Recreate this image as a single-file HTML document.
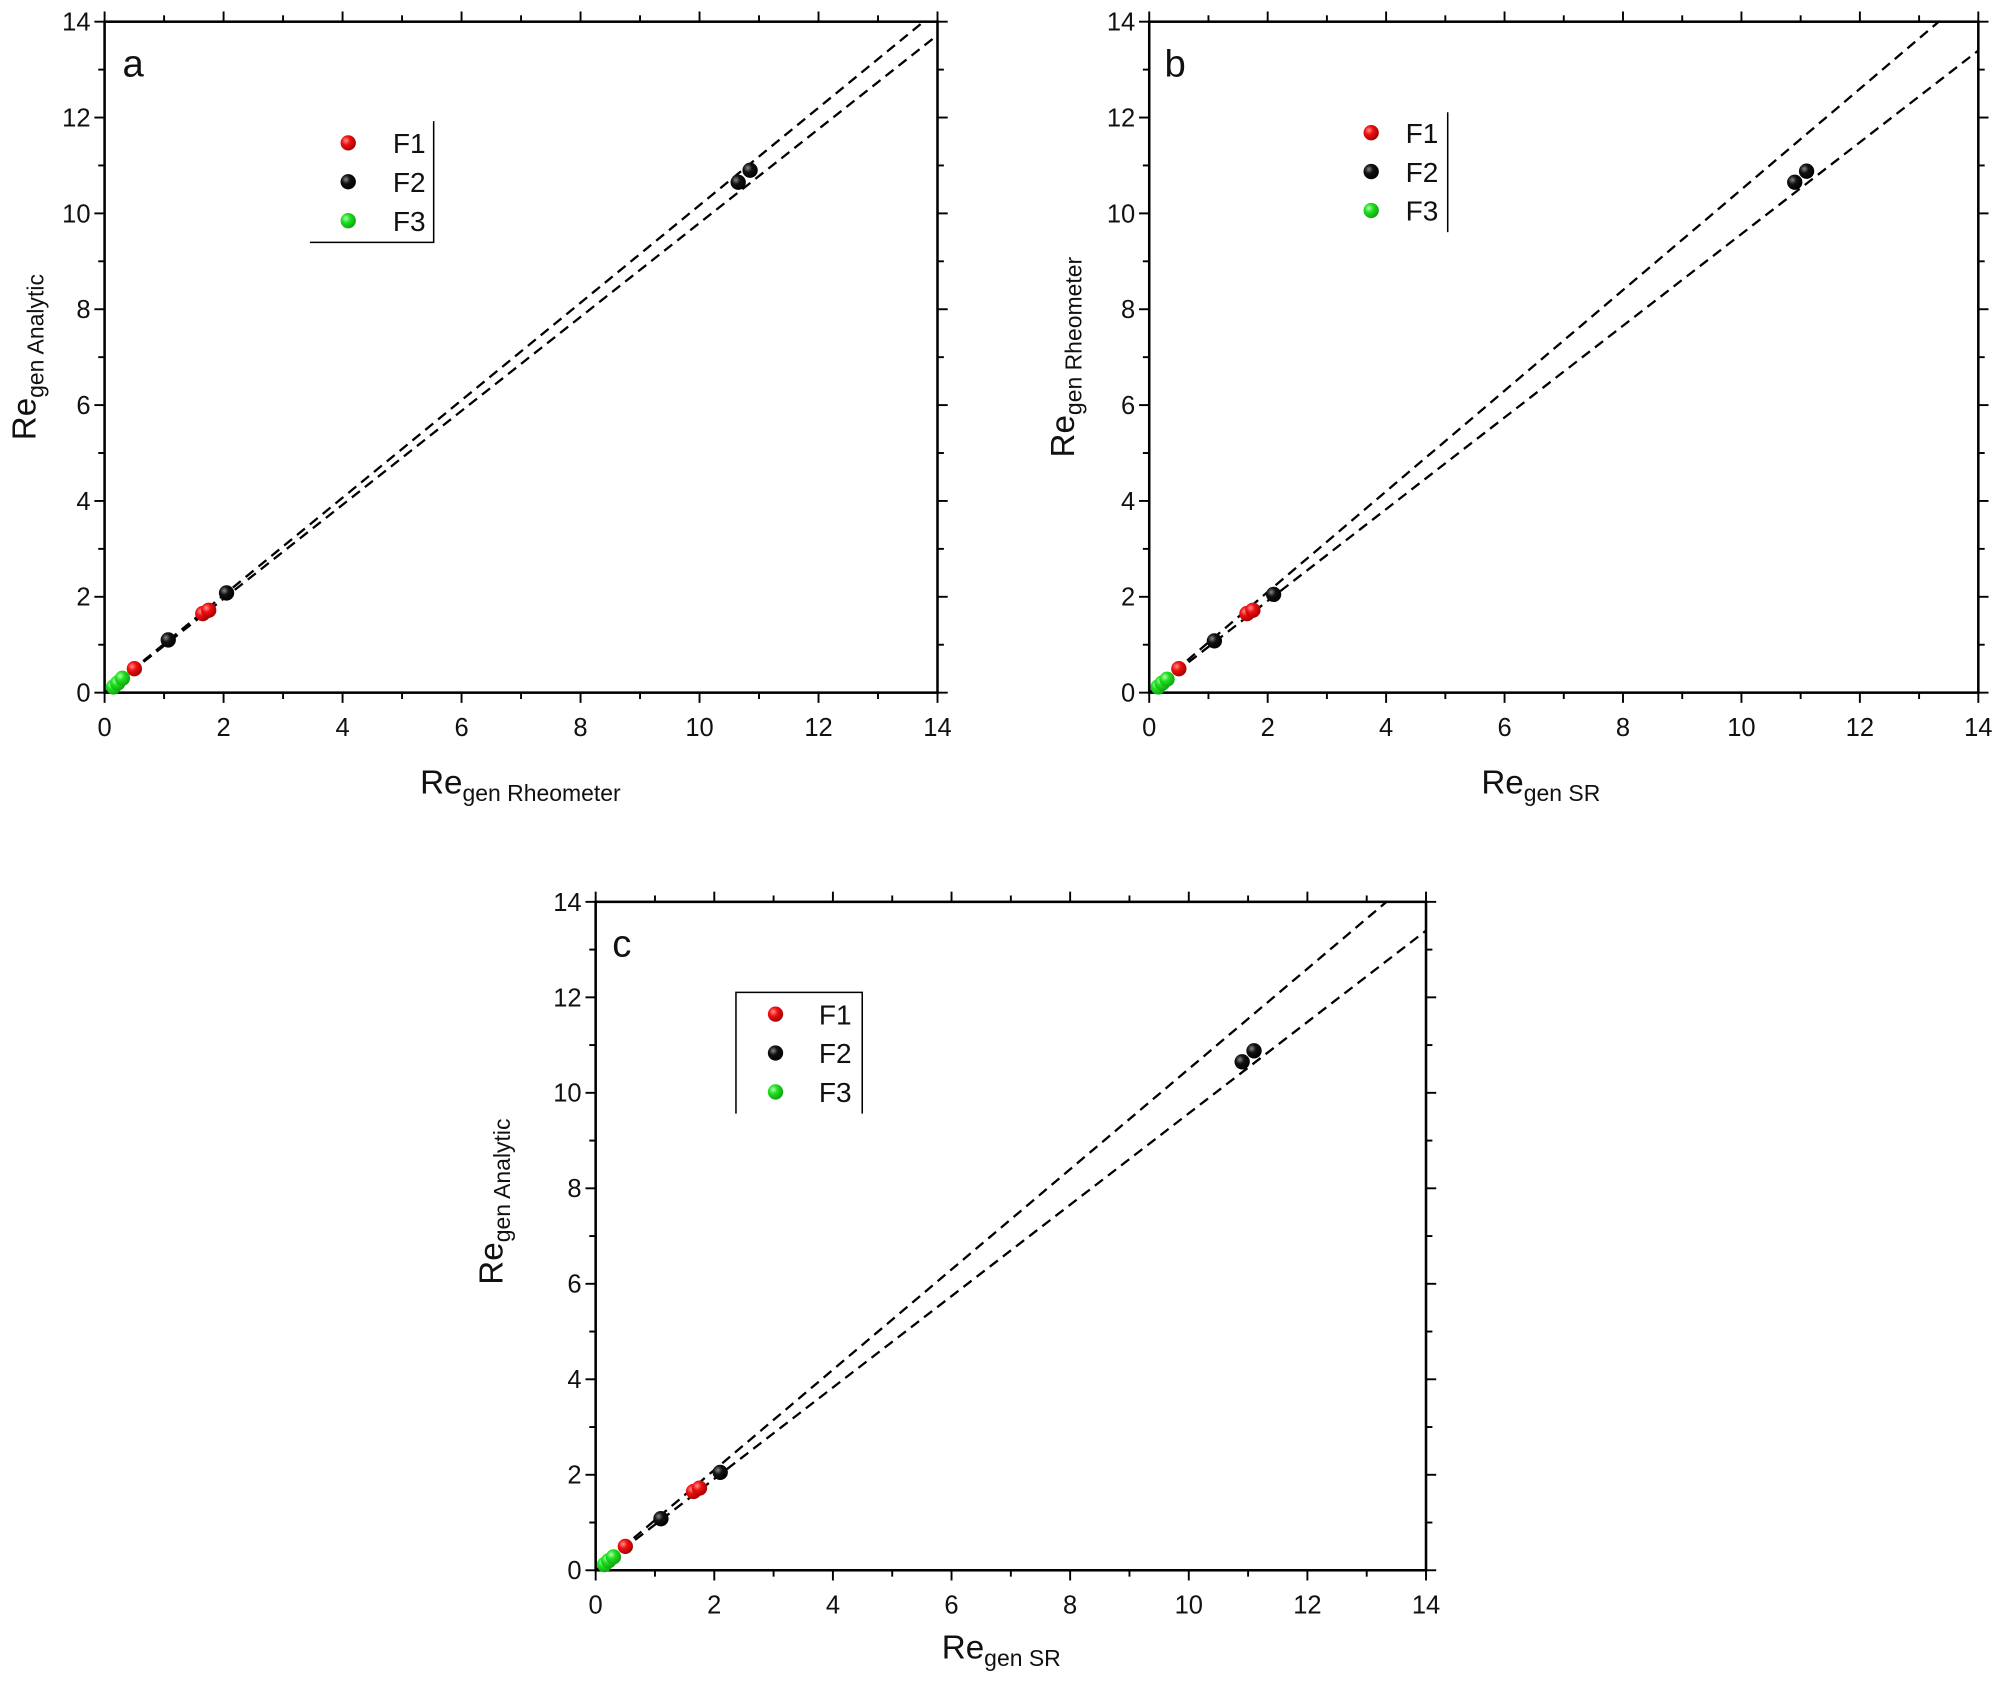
<!DOCTYPE html>
<html><head><meta charset="utf-8"><style>
html,body{margin:0;padding:0;background:#fff;}
svg{display:block;}
text{font-family:"Liberation Sans",Arial,sans-serif;fill:#111;}
</style></head><body>
<svg id="s" width="2000" height="1694" viewBox="0 0 1568 1328" preserveAspectRatio="none" xmlns="http://www.w3.org/2000/svg">
<defs>
<radialGradient id="gr" cx="0.35" cy="0.35" r="0.7"><stop offset="0" stop-color="#ff9090"/><stop offset="0.4" stop-color="#f01010"/><stop offset="1" stop-color="#a00000"/></radialGradient>
<radialGradient id="gk" cx="0.35" cy="0.35" r="0.7"><stop offset="0" stop-color="#888"/><stop offset="0.4" stop-color="#111"/><stop offset="1" stop-color="#000"/></radialGradient>
<radialGradient id="gg" cx="0.35" cy="0.35" r="0.7"><stop offset="0" stop-color="#b0ffb0"/><stop offset="0.4" stop-color="#20e020"/><stop offset="1" stop-color="#10a010"/></radialGradient>
</defs>
<g id="g"></g>
</svg>
<script>
var g=document.getElementById('g'),h='';
function P(o){
 var x0=o.x0,x1=o.x1,yt=o.yt,yb=o.yb;
 var sx=function(v){return x0+(x1-x0)*v/14;},sy=function(v){return yb-(yb-yt)*v/14;};
 h+='<rect x="'+x0+'" y="'+yt+'" width="'+(x1-x0)+'" height="'+(yb-yt)+'" fill="none" stroke="#000" stroke-width="2"/>';
 for(var i=0;i<=14;i++){
  var L=(i%2==0)?8:5,X=sx(i),Y=sy(i);
  h+='<line x1="'+X+'" y1="'+yb+'" x2="'+X+'" y2="'+(yb+L)+'" stroke="#000" stroke-width="1.5"/>';
  h+='<line x1="'+X+'" y1="'+yt+'" x2="'+X+'" y2="'+(yt-L)+'" stroke="#000" stroke-width="1.5"/>';
  h+='<line x1="'+x0+'" y1="'+Y+'" x2="'+(x0-L)+'" y2="'+Y+'" stroke="#000" stroke-width="1.5"/>';
  h+='<line x1="'+x1+'" y1="'+Y+'" x2="'+(x1+L)+'" y2="'+Y+'" stroke="#000" stroke-width="1.5"/>';
  if(i%2==0){
   h+='<text x="'+X+'" y="'+(yb+34)+'" font-size="20" text-anchor="middle">'+i+'</text>';
   h+='<text x="'+(x0-11)+'" y="'+(Y+7)+'" font-size="20" text-anchor="end">'+i+'</text>';
  }
 }
 o.lines.forEach(function(s){
  var ex=14,ey=14*s; if(ey>14){ey=14;ex=14/s;}
  h+='<line x1="'+sx(0)+'" y1="'+sy(0)+'" x2="'+sx(ex)+'" y2="'+sy(ey)+'" stroke="#000" stroke-width="1.8" stroke-dasharray="8,5"/>';
 });
 o.pts.forEach(function(p){h+='<circle cx="'+sx(p[0])+'" cy="'+sy(p[1])+'" r="6" fill="url(#'+p[2]+')"/>';});
 h+='<text x="'+o.lx+'" y="'+o.ly+'" font-size="30">'+o.letter+'</text>';
 var L=o.leg;['gr','gk','gg'].forEach(function(c,k){
  h+='<circle cx="'+L.mx+'" cy="'+(L.y+k*30.5)+'" r="6" fill="url(#'+c+')"/>';
  h+='<text x="'+L.tx+'" y="'+(L.y+k*30.5+8)+'" font-size="22">F'+(k+1)+'</text>';
 });
 h+=L.box;
 h+='<text x="'+o.xt[0]+'" y="'+o.xt[1]+'" font-size="26" text-anchor="middle">Re<tspan font-size="18" dy="6">'+o.xs+'</tspan></text>';
 h+='<text transform="translate('+o.yl[0]+','+o.yl[1]+') rotate(-90)" font-size="26" text-anchor="middle">Re<tspan font-size="18" dy="6">'+o.ys+'</tspan></text>';
}
var ptsA=[[0.15,0.12,'gg'],[0.22,0.2,'gg'],[0.3,0.3,'gg'],[0.5,0.5,'gr'],[1.65,1.65,'gr'],[1.75,1.72,'gr'],[1.07,1.1,'gk'],[2.05,2.08,'gk'],[10.65,10.65,'gk'],[10.85,10.9,'gk']];
var ptsB=[[0.15,0.12,'gg'],[0.22,0.2,'gg'],[0.3,0.28,'gg'],[0.5,0.5,'gr'],[1.65,1.65,'gr'],[1.75,1.72,'gr'],[1.1,1.08,'gk'],[2.1,2.05,'gk'],[10.9,10.65,'gk'],[11.1,10.88,'gk']];
P({x0:82,x1:735,yt:17,yb:543,lines:[1.017,0.98],pts:ptsA,letter:'a',lx:96,ly:60,
 leg:{mx:273,tx:308,y:112,box:'<path d="M340 95 V190 H243" fill="none" stroke="#000" stroke-width="1.2"/>'},
 xt:[408,622],xs:'gen Rheometer',yl:[28,280],ys:'gen Analytic'});
P({x0:901,x1:1551,yt:17,yb:543,lines:[1.05,0.957],pts:ptsB,letter:'b',lx:913,ly:60,
 leg:{mx:1075,tx:1102,y:104,box:'<path d="M1135 88 V182" fill="none" stroke="#000" stroke-width="1.2"/>'},
 xt:[1208,622],xs:'gen SR',yl:[842,280],ys:'gen Rheometer'});
P({x0:467,x1:1118,yt:707,yb:1231,lines:[1.05,0.957],pts:ptsB,letter:'c',lx:480,ly:750,
 leg:{mx:608,tx:642,y:795,box:'<path d="M577 873 V778 H676 V873" fill="none" stroke="#000" stroke-width="1.2"/>'},
 xt:[785,1300],xs:'gen SR',yl:[394,942],ys:'gen Analytic'});
g.innerHTML=h;
</script>
</body></html>
